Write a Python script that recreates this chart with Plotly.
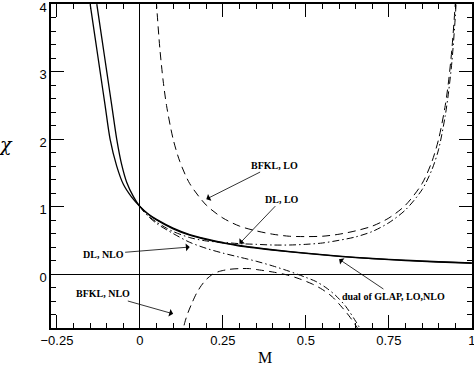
import plotly.graph_objects as go

# ---- data ----
glap_a_M = [-0.13, -0.115, -0.10, -0.085, -0.07, -0.055, -0.04, -0.02, 0.0, 0.025, 0.05, 0.10, 0.15, 0.20,
            0.25, 0.30, 0.35, 0.40, 0.50, 0.60, 0.70, 0.80, 0.90, 1.0]
glap_a_chi = [4.0, 3.5, 3.0, 2.5, 2.0, 1.62, 1.36, 1.15, 1.0, 0.89, 0.81, 0.68, 0.585, 0.52,
              0.465, 0.425, 0.39, 0.36, 0.31, 0.265, 0.23, 0.205, 0.182, 0.165]

glap_b_M = [-0.15, -0.135, -0.12, -0.105, -0.09, -0.07, -0.05, -0.025, 0.0, 0.025, 0.05, 0.10, 0.15, 0.20,
            0.25, 0.30, 0.35, 0.40, 0.50, 0.60, 0.70, 0.80, 0.90, 1.0]
glap_b_chi = [4.0, 3.5, 3.0, 2.5, 2.0, 1.6, 1.33, 1.14, 1.0, 0.885, 0.80, 0.67, 0.575, 0.51,
              0.46, 0.415, 0.385, 0.355, 0.305, 0.262, 0.228, 0.2, 0.178, 0.16]

bfkl_lo_M = [0.045, 0.05, 0.06, 0.07, 0.08, 0.10, 0.12, 0.15, 0.20, 0.25, 0.30, 0.35, 0.40, 0.45, 0.50,
             0.55, 0.60, 0.65, 0.70, 0.75, 0.80, 0.85, 0.88, 0.90, 0.92, 0.93, 0.94, 0.95, 0.955]
bfkl_lo_chi = [4.44, 4.00, 3.34, 2.86, 2.50, 2.00, 1.67, 1.34, 1.02, 0.83, 0.71, 0.64, 0.59, 0.56, 0.555,
               0.56, 0.59, 0.64, 0.71, 0.83, 1.02, 1.34, 1.67, 2.00, 2.50, 2.86, 3.34, 4.00, 4.44]

dl_lo_M = [0.0, 0.02, 0.05, 0.08, 0.10, 0.15, 0.20, 0.25, 0.30, 0.35, 0.40, 0.45, 0.50, 0.55, 0.60,
           0.65, 0.70, 0.75, 0.80, 0.85, 0.88, 0.90, 0.92, 0.93, 0.94, 0.95, 0.955, 0.96]
dl_lo_chi = [1.0, 0.88, 0.77, 0.68, 0.63, 0.54, 0.49, 0.47, 0.45, 0.44, 0.43, 0.43, 0.44, 0.46, 0.50,
             0.55, 0.63, 0.76, 0.95, 1.25, 1.55, 1.85, 2.35, 2.70, 3.15, 3.80, 4.25, 4.80]

bfkl_nlo_M = [0.125, 0.135, 0.145, 0.155, 0.17, 0.185, 0.20, 0.22, 0.24, 0.27, 0.30, 0.33, 0.36, 0.40,
              0.44, 0.48, 0.52, 0.55, 0.58, 0.61, 0.63, 0.65, 0.67]
bfkl_nlo_chi = [-0.95, -0.72, -0.57, -0.45, -0.29, -0.17, -0.08, 0.0, 0.04, 0.07, 0.08, 0.08, 0.06, 0.03,
                -0.01, -0.07, -0.15, -0.23, -0.34, -0.50, -0.62, -0.76, -0.92]

dl_nlo_M = [0.0, 0.02, 0.05, 0.10, 0.15, 0.20, 0.25, 0.30, 0.35, 0.40, 0.45, 0.50, 0.53, 0.56, 0.59,
            0.62, 0.65, 0.68]
dl_nlo_chi = [1.0, 0.88, 0.75, 0.60, 0.47, 0.38, 0.31, 0.25, 0.19, 0.12, 0.04, -0.05, -0.11, -0.20, -0.32,
              -0.48, -0.70, -0.95]

x_tickvals = [-0.25, 0, 0.25, 0.5, 0.75, 1]
x_ticktext = ["\u22120.25", "0", "0.25", "0.5", "0.75", "1"]
y_tickvals = [0, 1, 2, 3, 4]
y_ticktext = ["0", "1", "2", "3", "4"]

labels = ["BFKL, LO", "DL, LO", "DL, NLO", "BFKL, NLO", "dual of GLAP, LO,NLO"]
label_tip_M = [0.20, 0.30, 0.15, 0.10, 0.60]
label_tip_chi = [1.11, 0.45, 0.40, -0.59, 0.22]
label_txt_M = [0.404, 0.428, -0.111, -0.111, 0.765]
label_txt_chi = [1.615, 1.11, 0.296, -0.296, -0.326]

# ---- figure ----
fig = go.Figure()
solid = dict(color="black", width=1.3, shape="spline", smoothing=0.8)
dashed = dict(color="black", width=1.0, dash="8px,5px", shape="spline", smoothing=0.8)
dashdot = dict(color="black", width=1.0, dash="7px,3px,1.5px,3px", shape="spline", smoothing=0.8)

fig.add_trace(go.Scatter(x=glap_a_M, y=glap_a_chi, mode="lines", line=solid))
fig.add_trace(go.Scatter(x=glap_b_M, y=glap_b_chi, mode="lines", line=solid))
fig.add_trace(go.Scatter(x=bfkl_lo_M, y=bfkl_lo_chi, mode="lines", line=dashed))
fig.add_trace(go.Scatter(x=bfkl_nlo_M, y=bfkl_nlo_chi, mode="lines", line=dashed))
fig.add_trace(go.Scatter(x=dl_lo_M, y=dl_lo_chi, mode="lines", line=dashdot))
fig.add_trace(go.Scatter(x=dl_nlo_M, y=dl_nlo_chi, mode="lines", line=dashdot))

annots = []
for t, tx, ty, ax, ay in zip(labels, label_tip_M, label_tip_chi, label_txt_M, label_txt_chi):
    annots.append(dict(x=tx, y=ty, ax=ax, ay=ay, xref="x", yref="y", axref="x", ayref="y",
                       text="<b>" + t + "</b>", showarrow=True, arrowhead=1, arrowsize=1.6,
                       arrowwidth=0.8, arrowcolor="black", borderpad=1,
                       font=dict(family="Liberation Serif", size=10, color="black")))
annots.append(dict(x=0.508, y=-0.091, xref="paper", yref="paper", text="M", showarrow=False,
                   xanchor="center", yanchor="middle",
                   font=dict(family="Liberation Serif", size=16, color="black")))
annots.append(dict(x=-0.107, y=0.568, xref="paper", yref="paper", text="<i>\u03c7</i>", showarrow=False,
                   xanchor="center", yanchor="middle",
                   font=dict(family="DejaVu Serif", size=19, color="black")))

axis_common = dict(showgrid=False, showline=True, linecolor="black", linewidth=1.5, mirror="allticks",
                   ticks="inside", tickcolor="black", tickwidth=1, ticklen=13, automargin=False,
                   ticklabeloverflow="allow",
                   zeroline=True, zerolinecolor="black", zerolinewidth=1,
                   tickfont=dict(family="Liberation Sans", size=13, color="black"))

fig.update_layout(
    width=474, height=368,
    margin=dict(l=51, r=2, t=4, b=40, autoexpand=False),
    paper_bgcolor="white", plot_bgcolor="white",
    showlegend=False,
    annotations=annots,
    xaxis=dict(range=[-0.268, 1.0005], tickvals=x_tickvals, ticktext=x_ticktext,
               minor=dict(dtick=0.05, tick0=0, ticklen=5, ticks="inside", tickcolor="black", tickwidth=1),
               **axis_common),
    yaxis=dict(range=[-0.8, 4.002], tickvals=y_tickvals, ticktext=y_ticktext, ticklabelshift=3,
               minor=dict(dtick=0.2, tick0=0, ticklen=5, ticks="inside", tickcolor="black", tickwidth=1),
               **axis_common),
)

fig.write_html("out.html", config={"displayModeBar": False},
               post_script="document.body.style.margin='0px';document.body.style.overflow='hidden';")
